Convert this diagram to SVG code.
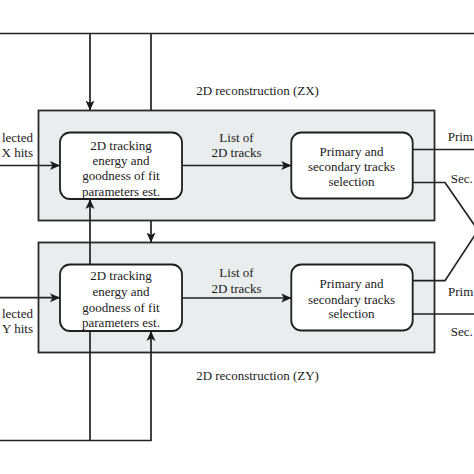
<svg xmlns="http://www.w3.org/2000/svg" width="474" height="474" viewBox="0 0 474 474">
<style>
text{font-family:"Liberation Serif","Times New Roman",serif;font-size:13px;fill:#1a1a1a}
.c{text-anchor:middle}
.e{text-anchor:end}
.panel{fill:#e9edee;stroke:#2a2a2a;stroke-width:1.8}
.node{fill:#ffffff;stroke:#1e1e1e;stroke-width:1.8}
.ln{fill:none;stroke:#222222;stroke-width:1.7}
.ar{marker-end:url(#ah)}
</style>
<defs>
<marker id="ah" viewBox="0 0 10 10" refX="10" refY="5" markerWidth="10" markerHeight="10" markerUnits="userSpaceOnUse" orient="auto">
<path d="M0,0.5 L10,5 L0,9.5 L2.5,5 z" fill="#1a1a1a"/>
</marker>
</defs>
<rect width="474" height="474" fill="#ffffff"/>
<g id="reconZX">
<rect class="panel" x="38.5" y="110.5" width="396" height="110"/>
<text class="c" x="257.5" y="94.5">2D reconstruction (ZX)</text>
</g>
<g id="reconZY">
<rect class="panel" x="38.5" y="242.5" width="396" height="110"/>
<text class="c" x="257.5" y="380">2D reconstruction (ZY)</text>
</g>
<g id="connectors">
<polyline class="ln" points="0,33.5 474,33.5"/>
<line class="ln ar" x1="90" y1="33.5" x2="90" y2="110.5"/>
<line class="ln" x1="151" y1="33.5" x2="151" y2="110.5"/>
<line class="ln ar" x1="151" y1="220.5" x2="151" y2="242.5"/>
<line class="ln ar" x1="90" y1="264.5" x2="90" y2="199"/>
<polyline class="ln" points="90,331 90,440.5"/>
<polyline class="ln ar" points="0,440.5 151,440.5 151,331"/>
<line class="ln ar" x1="0" y1="165.5" x2="60" y2="165.5"/>
<line class="ln ar" x1="0" y1="297.7" x2="60" y2="297.7"/>
<line class="ln ar" x1="182" y1="165.5" x2="291.3" y2="165.5"/>
<line class="ln ar" x1="182" y1="298" x2="291.3" y2="298"/>
<line class="ln" x1="412.7" y1="149.5" x2="474" y2="149.5"/>
<polyline class="ln" points="412.7,182.5 445,182.5 490,247.5"/>
<polyline class="ln" points="412.7,280.7 445,280.7 490,212"/>
<line class="ln" x1="412.7" y1="314" x2="474" y2="314"/>
</g>
<g id="trackZX">
<rect class="node" x="60" y="132.5" width="122" height="66.5" rx="10"/>
<text class="c" x="121" y="149.5">2D tracking</text>
<text class="c" x="121" y="165">energy and</text>
<text class="c" x="121" y="180">goodness of fit</text>
<text class="c" x="121" y="195.5">parameters est.</text>
</g>
<g id="selZX">
<rect class="node" x="291.3" y="132.5" width="121.4" height="66" rx="10"/>
<text class="c" x="351.5" y="155.5">Primary and</text>
<text class="c" x="351.5" y="170.5">secondary tracks</text>
<text class="c" x="351.5" y="185.5">selection</text>
</g>
<g id="trackZY">
<rect class="node" x="60" y="264.5" width="122" height="66.5" rx="10"/>
<text class="c" x="121" y="280">2D tracking</text>
<text class="c" x="121" y="295.5">energy and</text>
<text class="c" x="121" y="311.5">goodness of fit</text>
<text class="c" x="121" y="326.5">parameters est.</text>
</g>
<g id="selZY">
<rect class="node" x="291.3" y="264.5" width="121.4" height="66" rx="10"/>
<text class="c" x="351.5" y="288">Primary and</text>
<text class="c" x="351.5" y="303.5">secondary tracks</text>
<text class="c" x="351.5" y="318">selection</text>
</g>
<g id="labels">
<text class="e" x="33" y="141.5">lected</text>
<text class="e" x="33" y="156.5">X hits</text>
<text class="e" x="33" y="317.5">lected</text>
<text class="e" x="33" y="332.5">Y hits</text>
<text class="c" x="236.5" y="141.5">List of</text>
<text class="c" x="236.5" y="156.5">2D tracks</text>
<text class="c" x="236.5" y="276.5">List of</text>
<text class="c" x="236.5" y="292.5">2D tracks</text>
<text x="447.7" y="141">Prim</text>
<text x="450.7" y="182.8">Sec.</text>
<text x="448" y="296">Prim</text>
<text x="450.7" y="336">Sec.</text>
</g>
</svg>
